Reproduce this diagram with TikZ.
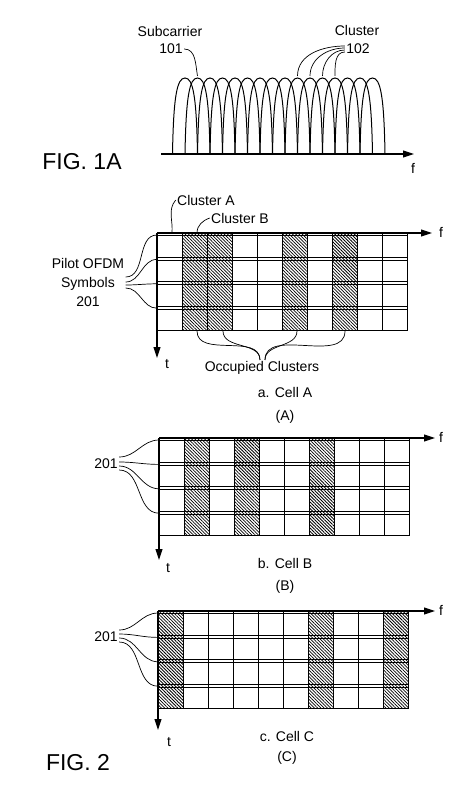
\documentclass[tikz,border=0pt]{standalone}
\usepackage{fontspec}
\setmainfont{Liberation Sans}
\usetikzlibrary{arrows.meta,patterns.meta}

\begin{document}
\begin{tikzpicture}[x=1pt, y=-1pt, line width=1pt,
			>={Triangle[length=11pt,width=7pt]},
			lbl/.style={font=\fontsize{14}{19}\selectfont, inner sep=1pt, align=center},
			fig/.style={font=\fontsize{23}{26}\selectfont, inner sep=0pt},
			lead/.style={line width=0.7pt},
			axis/.style={line width=1.1pt},
			cell/.style={line width=1pt},
			hatch/.style={pattern={Lines[angle=-45,distance=2.3pt,line width=0.75pt]}}]
			\useasboundingbox (0,0) rectangle (474,797);
			
			\node[fig] (fig1) at (82, 162) {FIG. 1A};
			\coordinate (o1) at (161, 154);
			\coordinate (f1) at (414, 154);
			\node[lbl] (f1l) at (413, 168) {f};
			\foreach \i in {0,...,15} {
				\pgfmathsetmacro{\c}{185+12.5*\i}
				\draw (\c-12.5,154) .. controls (\c-11.5,96) and (\c-8,78) .. (\c,78)
					.. controls (\c+8,78) and (\c+11.5,96) .. (\c+12.5,154);
				\coordinate (pk\i) at (\c, 76);
			}
			\node[lbl] (sub) at (170, 31) {Subcarrier};
			\node[lbl] (s101) at (171, 49) {101};
			\node[lbl] (clu) at (357, 30) {Cluster};
			\node[lbl] (c102) at (358, 49) {102};
			
			\path[->, axis] 	(o1)  edge   (f1);
			\path[lead] 	(s101.east)  edge[out=0, in=100]   (pk1);
			\path[lead] 	([yshift=3pt]c102.west)  edge[out=180, in=90]   (pk9);
			\path[lead] 	([yshift=1pt]c102.west)  edge[out=180, in=90]   (pk10);
			\path[lead] 	([yshift=-1pt]c102.west)  edge[out=180, in=90]   (pk11);
			\path[lead] 	([yshift=-3pt]c102.west)  edge[out=180, in=90]   (pk12);
			
			% cell A
			\begin{scope}[shift={(157,233)}]
				\foreach \c in {1,2,5,7} \fill[hatch] (\c*25,0) rectangle ++(25,97.6);
				\foreach \c in {0,...,10} \draw[cell] (\c*25,0) -- (\c*25,97.6);
				\foreach \r in {0,...,3} \draw[cell] (0,\r*24.4) -- (250,\r*24.4) (0,\r*24.4+2.8) -- (250,\r*24.4+2.8);
				\draw[cell] (0,97.6) -- (250,97.6);
				\coordinate (oA) at (0,0);
				\coordinate (fA) at (275,0);
				\coordinate (tA) at (0,125);
				\foreach \r in {0,...,3} \coordinate (pA\r) at (0,\r*24.4+2);
			\end{scope}
			\node[lbl] (fAl) at (441, 232) {f};
			\node[lbl] (tAl) at (167, 364) {t};
			\node[lbl] (cA) at (206, 200) {Cluster A};
			\node[lbl] (cB) at (240, 218) {Cluster B};
			\coordinate (cAe) at (172, 233);
			\coordinate (cBe) at (197, 233);
			\node[lbl] (pil) at (88, 282) {Pilot OFDM\\Symbols\\201};
			\node[lbl] (occ) at (262, 368) {Occupied Clusters};
			\coordinate (oc1) at (197, 331);
			\coordinate (oc2) at (223, 331);
			\coordinate (oc5) at (297, 331);
			\coordinate (oc7) at (345, 331);
			\node[lbl] (cellA) at (285, 392) {a. Cell A};
			\node[lbl] (capA) at (285, 417) {(A)};
			
			\path[->, axis] 	(oA)  edge   (fA);
			\path[->, axis] 	(oA)  edge   (tA);
			\path[lead] 	(cA.west)  edge[out=230, in=85]   (cAe);
			\path[lead] 	(cB.west)  edge[out=200, in=90]   (cBe);
			\path[lead] 	([yshift=5pt]pil.east)  edge[out=0, in=180]   (pA0);
			\path[lead] 	([yshift=0pt]pil.east)  edge[out=0, in=180]   (pA1);
			\path[lead] 	([yshift=-3pt]pil.east)  edge[out=0, in=180]   (pA2);
			\path[lead] 	([yshift=-6pt]pil.east)  edge[out=0, in=180]   (pA3);
			\path[lead] 	(oc1)  edge[out=-90, in=90]   ([xshift=-2pt]occ.north);
			\path[lead] 	(oc2)  edge[out=-90, in=90]   ([xshift=-2pt]occ.north);
			\path[lead] 	(oc5)  edge[out=-90, in=90]   ([xshift=3pt]occ.north);
			\path[lead] 	(oc7)  edge[out=-90, in=90]   ([xshift=3pt]occ.north);
			
			% cell B
			\begin{scope}[shift={(159,438)}]
				\foreach \c in {1,3,6} \fill[hatch] (\c*25,0) rectangle ++(25,97.6);
				\foreach \c in {0,...,10} \draw[cell] (\c*25,0) -- (\c*25,97.6);
				\foreach \r in {0,...,3} \draw[cell] (0,\r*24.4) -- (250,\r*24.4) (0,\r*24.4+2.8) -- (250,\r*24.4+2.8);
				\draw[cell] (0,97.6) -- (250,97.6);
				\coordinate (oB) at (0,0);
				\coordinate (fB) at (276,0);
				\coordinate (tB) at (0,122);
				\foreach \r in {0,...,3} \coordinate (pB\r) at (0,\r*24.4+2);
			\end{scope}
			\node[lbl] (fBl) at (441, 437) {f};
			\node[lbl] (tBl) at (168, 568) {t};
			\node[lbl] (nB) at (106, 464) {201};
			\node[lbl] (cellB) at (285, 563) {b. Cell B};
			\node[lbl] (capB) at (285, 587) {(B)};
			
			\path[->, axis] 	(oB)  edge   (fB);
			\path[->, axis] 	(oB)  edge   (tB);
			\path[lead] 	([yshift=7pt]nB.east)  edge[out=0, in=180]   (pB0);
			\path[lead] 	([yshift=2pt]nB.east)  edge[out=0, in=180]   (pB1);
			\path[lead] 	([yshift=-2pt]nB.east)  edge[out=0, in=180]   (pB2);
			\path[lead] 	([yshift=-6pt]nB.east)  edge[out=0, in=180]   (pB3);
			
			% cell C
			\begin{scope}[shift={(158,611)}]
				\foreach \c in {0,6,9} \fill[hatch] (\c*25,0) rectangle ++(25,97.6);
				\foreach \c in {0,...,10} \draw[cell] (\c*25,0) -- (\c*25,97.6);
				\foreach \r in {0,...,3} \draw[cell] (0,\r*24.4) -- (250,\r*24.4) (0,\r*24.4+2.8) -- (250,\r*24.4+2.8);
				\draw[cell] (0,97.6) -- (250,97.6);
				\coordinate (oC) at (0,0);
				\coordinate (fC) at (277,0);
				\coordinate (tC) at (0,119);
				\foreach \r in {0,...,3} \coordinate (pC\r) at (0,\r*24.4+2);
			\end{scope}
			\node[lbl] (fCl) at (441, 610) {f};
			\node[lbl] (tCl) at (169, 742) {t};
			\node[lbl] (nC) at (106, 637) {201};
			\node[lbl] (cellC) at (287, 736) {c. Cell C};
			\node[lbl] (capC) at (287, 758) {(C)};
			\node[fig] (fig2) at (78, 763) {FIG. 2};
			
			\path[->, axis] 	(oC)  edge   (fC);
			\path[->, axis] 	(oC)  edge   (tC);
			\path[lead] 	([yshift=7pt]nC.east)  edge[out=0, in=180]   (pC0);
			\path[lead] 	([yshift=3pt]nC.east)  edge[out=0, in=180]   (pC1);
			\path[lead] 	([yshift=-1pt]nC.east)  edge[out=0, in=180]   (pC2);
			\path[lead] 	([yshift=-5pt]nC.east)  edge[out=0, in=180]   (pC3);
			\end{tikzpicture}
\end{document}
